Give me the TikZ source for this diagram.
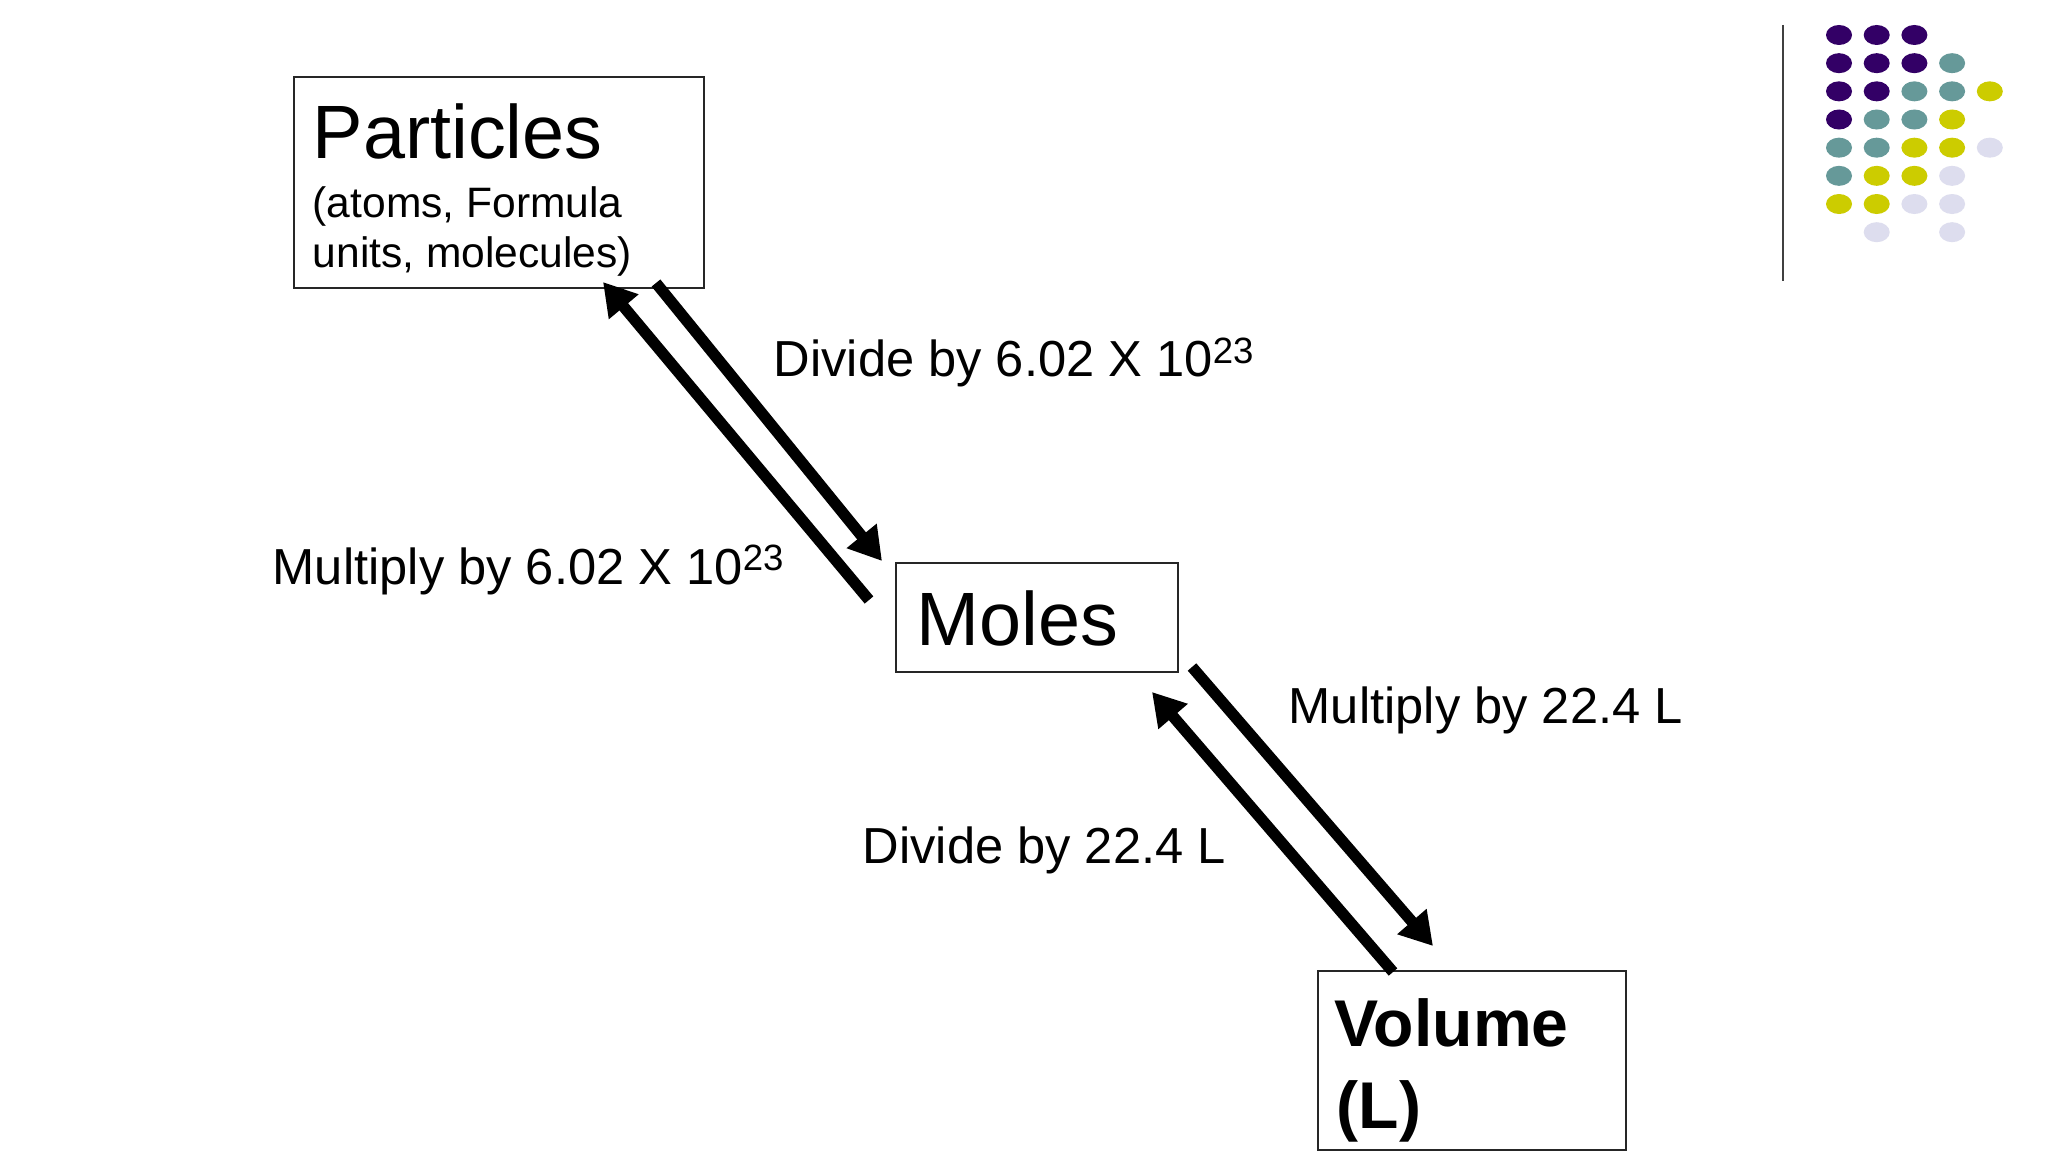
\documentclass[tikz,border=0pt]{standalone}
\usepackage{fontspec}
\setmainfont{Liberation Sans}
\usetikzlibrary{arrows.meta}
\definecolor{dpurple}{HTML}{330066}
\definecolor{dteal}{HTML}{669999}
\definecolor{dyellow}{HTML}{CCCC00}
\definecolor{dlav}{HTML}{DDDDEE}
\newcommand\bigfont{\fontsize{21.5}{25}\selectfont}
\newcommand\subfont{\fontsize{12.1}{14}\selectfont}
\newcommand\volfont{\fontsize{18.8}{22}\selectfont\bfseries}
\newcommand\lblfont{\fontsize{14.4}{17}\selectfont}
\newcommand\pw[1]{\raisebox{3.8pt}{\fontsize{10.4}{11}\selectfont #1}}
\begin{document}
\begin{tikzpicture}[x=0.01cm,y=-0.01cm,
  box/.style={draw=black!85, line width=0.6pt, inner sep=0pt, rectangle},
  txt/.style={inner sep=0pt, anchor=base west},
  conv/.style={line width=3.2pt, -{Triangle[length=9.2pt,width=10.4pt]}}
]
\useasboundingbox[fill=white] (0,0) rectangle (2048,1152);

% decoration at top right
\draw[black!75, line width=0.5pt] (1783,25) -- (1783,281);
\foreach \cx/\ry/\cc in {0/0/dpurple,1/0/dpurple,2/0/dpurple,
  0/1/dpurple,1/1/dpurple,2/1/dpurple,3/1/dteal,
  0/2/dpurple,1/2/dpurple,2/2/dteal,3/2/dteal,4/2/dyellow,
  0/3/dpurple,1/3/dteal,2/3/dteal,3/3/dyellow,
  0/4/dteal,1/4/dteal,2/4/dyellow,3/4/dyellow,4/4/dlav,
  0/5/dteal,1/5/dyellow,2/5/dyellow,3/5/dlav,
  0/6/dyellow,1/6/dyellow,2/6/dlav,3/6/dlav,
  1/7/dlav,3/7/dlav}
  \fill[\cc] ({1839+37.7*\cx},{35+28.17*\ry}) ellipse [x radius=0.13cm, y radius=0.10cm];

% boxes
\node[box, minimum width=4.10cm, minimum height=2.11cm] (part) at (499,182.5) {};
\node[box, minimum width=2.82cm, minimum height=1.09cm] (moles) at (1037,617.5) {};
\node[box, minimum width=3.08cm, minimum height=1.79cm] (vol) at (1472,1060.5) {};

% box texts
\node[txt] (partT) at (312,159) {\bigfont Particles};
\node[txt] (partS1) at (312,218) {\subfont (atoms, Formula};
\node[txt] (partS2) at (312,268) {\subfont units, molecules)};
\node[txt] (molesT) at (916,646) {\bigfont Moles};
\node[txt] (volT1) at (1334,1046) {\volfont Volume};
\node[txt] (volT2) at (1336,1128) {\volfont (L)};

% arrow end points
\coordinate (a1s) at (656,283);
\coordinate (a1e) at (882,561);
\coordinate (a2s) at (869,600);
\coordinate (a2e) at (603,282);
\coordinate (a3s) at (1192,667);
\coordinate (a3e) at (1433,946);
\coordinate (a4s) at (1393,972);
\coordinate (a4e) at (1152,692);

\draw[conv] (a1s) -- (a1e);
\draw[conv] (a2s) -- (a2e);
\draw[conv] (a3s) -- (a3e);
\draw[conv] (a4s) -- (a4e);

% labels
\node[txt] (l1) at (773,377) {\lblfont Divide by 6.02 X 10\pw{23}};
\node[txt] (l2) at (272,584) {\lblfont Multiply by 6.02 X 10\pw{23}};
\node[txt] (l3) at (1288,723) {\lblfont Multiply by 22.4 L};
\node[txt] (l4) at (862,863) {\lblfont Divide by 22.4 L};
\end{tikzpicture}
\end{document}
